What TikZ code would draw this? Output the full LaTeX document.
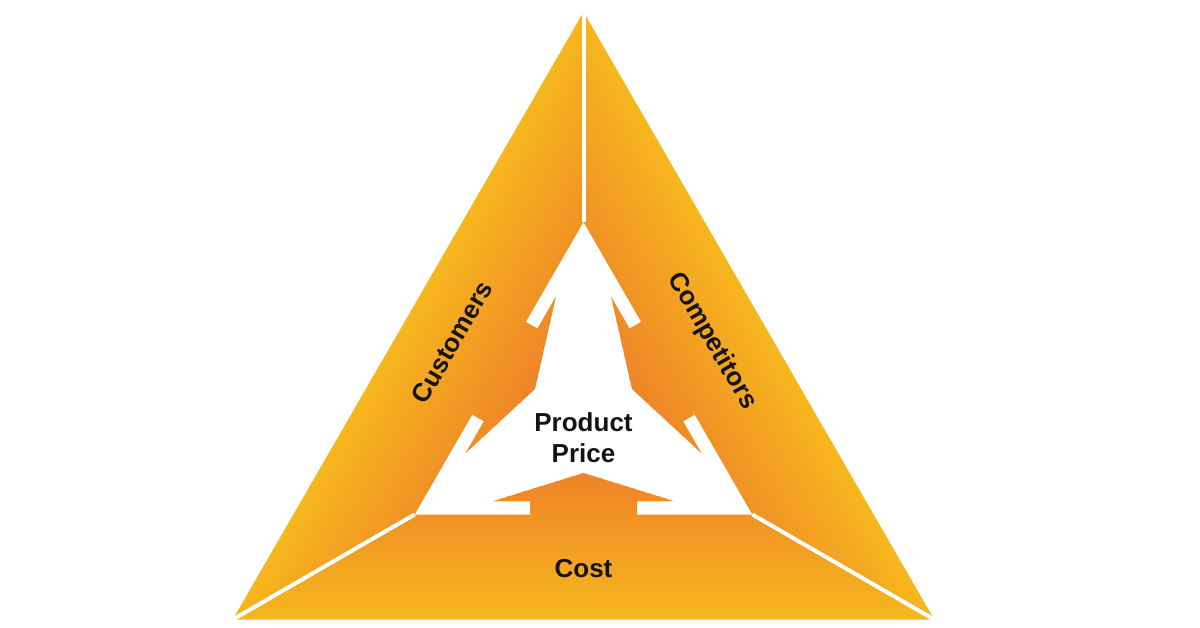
\documentclass[tikz,border=0pt]{standalone}
\usepackage{fontspec}
\setmainfont{Liberation Sans}
\usetikzlibrary{calc}
\definecolor{bandorange}{HTML}{EE8428}
\definecolor{bandyellow}{HTML}{F6B71D}
\definecolor{labelink}{HTML}{141414}
% one band (with its arrow), turned by #1 degrees about the centre C
\newcommand\bandregion[1]{%
  \begin{scope}
  \clip
    ([shift={(C)},rotate=#1]-350.7,202.5) --
    ([shift={(C)},rotate=#1]-168.9,97.5) --
    ([shift={(C)},rotate=#1]-53.5,97.5) --
    ([shift={(C)},rotate=#1]-53.5,84) --
    ([shift={(C)},rotate=#1]-90,84) --
    ([shift={(C)},rotate=#1]0,56) --
    ([shift={(C)},rotate=#1]90,84) --
    ([shift={(C)},rotate=#1]53.5,84) --
    ([shift={(C)},rotate=#1]53.5,97.5) --
    ([shift={(C)},rotate=#1]168.9,97.5) --
    ([shift={(C)},rotate=#1]350.7,202.5) -- cycle;
  \foreach \k in {0,...,59}{%
    \pgfmathsetmacro\ya{56+\k*2.5}%
    \pgfmathsetmacro\yb{\ya+3.6}%
    \pgfmathtruncatemacro\pc{100-\k*100/59}%
    \fill[bandorange!\pc!bandyellow]
      ([shift={(C)},rotate=#1]-400,\ya) --
      ([shift={(C)},rotate=#1]400,\ya) --
      ([shift={(C)},rotate=#1]400,\yb) --
      ([shift={(C)},rotate=#1]-400,\yb) -- cycle;
  }
  \end{scope}}
\begin{document}
\begin{tikzpicture}[x=1pt,y=-1pt,
  sep/.style={draw=white, line width=4pt},
  lab/.style={font=\fontsize{26}{31}\selectfont\bfseries, text=labelink, inner sep=0pt}]
\useasboundingbox[fill=white] (0,0) rectangle (1200,627);
\coordinate (C) at (583.5,417);
\coordinate (T) at (583.5,12);
\coordinate (BL) at (232.8,619.5);
\coordinate (BR) at (934.2,619.5);
\coordinate (iT) at (583.5,222);
\coordinate (iBL) at (414.6,514.5);
\coordinate (iBR) at (752.4,514.5);
\bandregion{0}
\bandregion{120}
\bandregion{-120}
\draw[sep] (T) -- (iT);
\draw[sep] (BL) -- (iBL);
\draw[sep] (BR) -- (iBR);
\node[lab] (cost) at (583.5,569) {Cost};
\node[lab, align=center] (price) at (583.5,438) {Product\\Price};
\node[lab, rotate=60] (customers) at (452,342) {Customers};
\node[lab, rotate=-60] (competitors) at (712,341) {Competitors};
\end{tikzpicture}
\end{document}
